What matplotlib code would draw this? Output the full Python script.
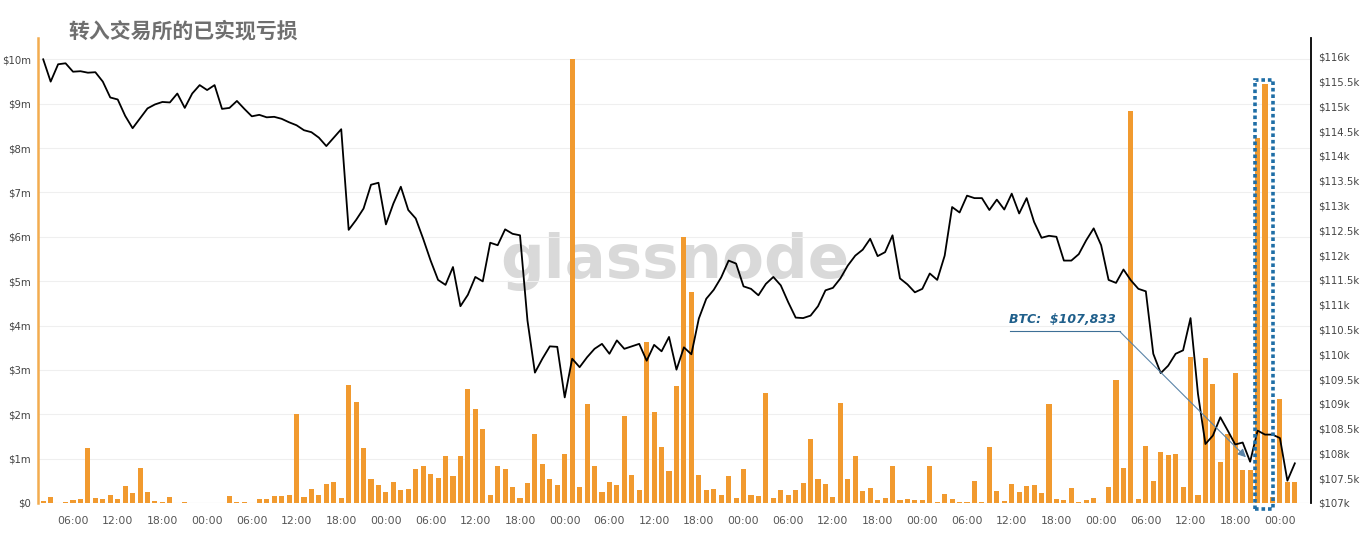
import matplotlib
matplotlib.use("Agg")
import matplotlib.pyplot as plt
from matplotlib.patches import Rectangle
import numpy as np
import pandas as pd

plt.rcParams['font.family'] = ['DejaVu Sans', 'Noto Sans CJK SC']

title = "转入交易所的已实现亏损"

# hourly timestamps (start 02:00)
times = pd.date_range("2025-01-01 02:00", periods=169, freq="h")

# realized loss sent to exchanges, $ millions
loss_m = [
    0.05, 0.14, 0.01, 0.03, 0.07, 0.10, 1.25, 0.11, 0.08, 0.17,
    0.08, 0.38, 0.23, 0.78, 0.24, 0.04, 0.02, 0.14, 0.01, 0.02,
    0.01, 0.005, 0.005, 0.01, 0.01, 0.16, 0.03, 0.03, 0.01, 0.10,
    0.10, 0.16, 0.16, 0.19, 2.00, 0.14, 0.32, 0.19, 0.42, 0.47,
    0.11, 2.65, 2.27, 1.24, 0.55, 0.41, 0.25, 0.47, 0.30, 0.32,
    0.77, 0.84, 0.66, 0.57, 1.07, 0.61, 1.05, 2.58, 2.12, 1.66,
    0.18, 0.83, 0.76, 0.35, 0.11, 0.46, 1.56, 0.87, 0.53, 0.41,
    1.10, 10.0, 0.36, 2.24, 0.83, 0.25, 0.48, 0.41, 1.95, 0.62,
    0.30, 3.62, 2.04, 1.27, 0.71, 2.63, 6.00, 4.76, 0.62, 0.30,
    0.32, 0.18, 0.60, 0.11, 0.76, 0.19, 0.16, 2.47, 0.11, 0.30,
    0.18, 0.30, 0.44, 1.44, 0.55, 0.42, 0.14, 2.26, 0.53, 1.05,
    0.26, 0.33, 0.07, 0.11, 0.83, 0.06, 0.08, 0.06, 0.06, 0.83,
    0.03, 0.21, 0.08, 0.03, 0.03, 0.50, 0.03, 1.27, 0.26, 0.05,
    0.42, 0.24, 0.39, 0.41, 0.23, 2.23, 0.08, 0.06, 0.34, 0.03,
    0.07, 0.12, 0.01, 0.35, 2.77, 0.78, 8.83, 0.08, 1.29, 0.50,
    1.16, 1.09, 1.10, 0.37, 3.29, 0.17, 3.26, 2.68, 0.92, 1.56,
    2.92, 0.75, 0.75, 8.22, 9.45, 0.14, 2.35, 0.48, 0.48,
]

# BTC price, $ thousands
price_k = [
    115.95, 115.50, 115.85, 115.87, 115.70, 115.71, 115.68, 115.69, 115.50, 115.18,
    115.14, 114.81, 114.56, 114.76, 114.96, 115.04, 115.09, 115.08, 115.26, 114.97,
    115.26, 115.43, 115.33, 115.43, 114.95, 114.97, 115.11, 114.95, 114.80, 114.83,
    114.78, 114.79, 114.75, 114.68, 114.62, 114.52, 114.48, 114.37, 114.20, 114.37,
    114.54, 112.51, 112.71, 112.94, 113.42, 113.46, 112.62, 113.04, 113.38, 112.91,
    112.74, 112.33, 111.89, 111.50, 111.40, 111.76, 110.97, 111.20, 111.56, 111.47,
    112.25, 112.20, 112.52, 112.43, 112.40, 110.68, 109.63, 109.91, 110.16, 110.15,
    109.13, 109.91, 109.74, 109.94, 110.11, 110.21, 110.01, 110.28, 110.11, 110.16,
    110.21, 109.87, 110.19, 110.06, 110.35, 109.69, 110.14, 110.00, 110.72, 111.12,
    111.30, 111.55, 111.89, 111.83, 111.37, 111.32, 111.19, 111.42, 111.56, 111.39,
    111.05, 110.74, 110.73, 110.78, 110.97, 111.29, 111.34, 111.53, 111.79, 111.99,
    112.11, 112.33, 111.98, 112.06, 112.40, 111.53, 111.41, 111.25, 111.32, 111.63,
    111.50, 111.99, 112.97, 112.86, 113.20, 113.15, 113.15, 112.91, 113.12, 112.92,
    113.24, 112.84, 113.15, 112.67, 112.35, 112.39, 112.37, 111.89, 111.89, 112.02,
    112.30, 112.54, 112.20, 111.50, 111.44, 111.71, 111.49, 111.32, 111.27, 110.01,
    109.62, 109.77, 110.01, 110.08, 110.73, 109.20, 108.19, 108.36, 108.73, 108.46,
    108.18, 108.22, 107.833, 108.46, 108.38, 108.38, 108.31, 107.45, 107.80,
]

left_ticks = list(range(0, 11))
left_labels = ["$0"] + [f"${v}m" for v in range(1, 11)]
right_ticks = [107 + 0.5 * k for k in range(19)]
right_labels = [f"${v:g}k" for v in right_ticks]

annot_text = "BTC:  $107,833"
annot_idx = 162

BAR = '#f19a2f'
x = np.arange(len(times))

fig = plt.figure(figsize=(13.64, 5.45), dpi=100)
ax = fig.add_axes([38 / 1364, 1 - 503 / 545, (1311 - 38) / 1364, (503 - 38) / 545])
ax2 = ax.twinx()

# watermark
ax.text(0.5, 0.52, "glassnode", transform=ax.transAxes, ha='center', va='center',
        fontsize=44, fontweight='bold', color='#d9d9d9', zorder=0)

ax.bar(x, loss_m, width=0.68, color=BAR, zorder=2)
ax.set_ylim(0, 10.48)
ax.set_xlim(-0.7, 170.17)
ax.set_yticks(left_ticks)
ax.set_yticklabels(left_labels)
ax.grid(axis='y', color='#efefef', lw=0.8, zorder=0)
ax.set_axisbelow(True)

ax2.plot(x, price_k, color='black', lw=1.3, zorder=3)
ax2.set_ylim(107, 116.38)
ax2.set_yticks(right_ticks)
ax2.set_yticklabels(right_labels)

# x ticks every 6 hours
tick_pos = [i for i, t in enumerate(times) if t.hour % 6 == 0]
tick_lab = [times[i].strftime("%H:%M") for i in tick_pos]
ax.set_xticks(tick_pos)
ax.set_xticklabels(tick_lab)

for a in (ax, ax2):
    a.spines['top'].set_visible(False)
    a.spines['bottom'].set_visible(False)
ax.spines['right'].set_visible(False)
ax2.spines['left'].set_visible(False)
ax.spines['left'].set_color('#f3ac4f')
ax.spines['left'].set_linewidth(1.8)
ax2.spines['right'].set_color('black')
ax2.spines['right'].set_linewidth(1.3)
ax.axhline(0, color='#dddddd', lw=0.8, zorder=1)

ax.tick_params(axis='y', length=0, pad=5, labelsize=7.3, labelcolor='#444444')
ax2.tick_params(axis='y', length=0, pad=5, labelsize=7.3, labelcolor='#444444')
ax.tick_params(axis='x', length=0, pad=9, labelsize=7.8, labelcolor='#555555')

# highlight box (dotted)
rect = Rectangle((162.6, 106.88), 2.5, 115.53 - 106.88, fill=False,
                 edgecolor='#1f6ea6', lw=2.6, linestyle=(0, (1, 0.8)),
                 clip_on=False, zorder=5)
ax2.add_patch(rect)

# annotation
ax2.plot([129.8, 144.5], [110.46, 110.46], color='#3d6f96', lw=0.8, zorder=4)
ax2.annotate("", xy=(annot_idx - 0.3, price_k[annot_idx] + 0.05), xytext=(144.5, 110.46),
             arrowprops=dict(arrowstyle='-|>', color='#5a84a8', lw=0.8,
                             mutation_scale=12, shrinkA=0, shrinkB=2), zorder=4)
ax2.text(136.8, 110.7, annot_text, ha='center', va='center', fontsize=9,
         fontweight='bold', fontstyle='italic', color='#1f5f8b', zorder=4)

fig.text(68 / 1364, 1 - 31 / 545, title, ha='left', va='center', fontsize=15,
         fontweight='bold', color='#6f6f6f', family=['Noto Sans CJK SC', 'DejaVu Sans'])

fig.savefig("out.png", dpi=100)
